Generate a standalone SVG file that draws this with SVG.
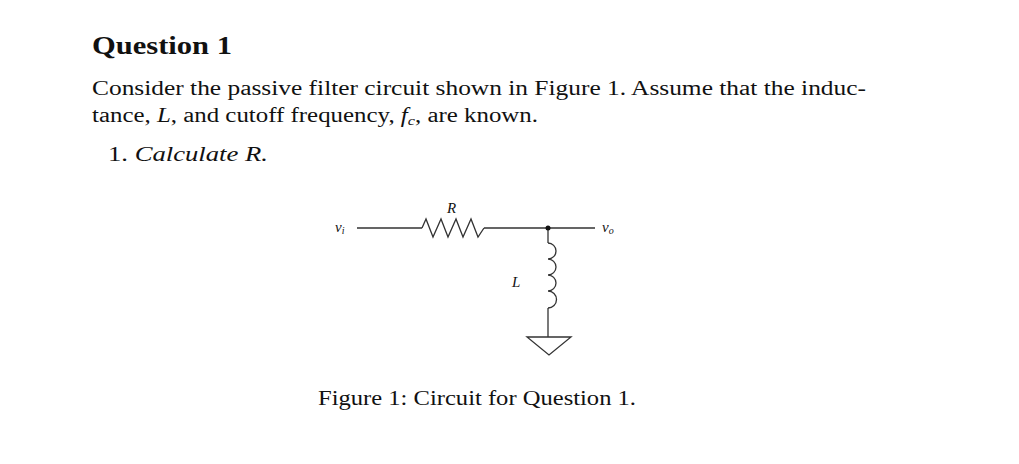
<svg xmlns="http://www.w3.org/2000/svg" width="1019" height="464" viewBox="0 0 1019 464">
<style>
text{font-family:"Liberation Serif","DejaVu Serif",serif;fill:#111}
.w{stroke:#333;stroke-width:1.3;fill:none}
.i{font-style:italic}
</style>
<rect width="1019" height="464" fill="#fff"/>
<text x="92" y="54" font-size="25" font-weight="bold" textLength="140" lengthAdjust="spacingAndGlyphs">Question 1</text>
<text x="92" y="95" font-size="20" textLength="774" lengthAdjust="spacingAndGlyphs">Consider the passive filter circuit shown in Figure 1.  Assume that the induc-</text>
<text x="92" y="122" font-size="20" textLength="446" lengthAdjust="spacingAndGlyphs">tance, <tspan class="i">L</tspan>, and cutoff frequency, <tspan class="i">f<tspan font-size="13" dy="3">c</tspan></tspan><tspan dy="-3">, are known.</tspan></text>
<text x="108" y="161" font-size="20" textLength="160" lengthAdjust="spacingAndGlyphs">1. <tspan class="i">Calculate R.</tspan></text>
<g id="connectors">
<path class="w" d="M357 228H422 M484 228H595 M548 228V243 M548 308V337"/>
</g>
<g id="R">
<path class="w" d="M422 228L426 219L433 237L441 219L448 237L456 219L463 237L471 219L478 237L484 228"/>
<text x="447" y="213" font-size="15" class="i">R</text>
</g>
<g id="L">
<path class="w" d="M548 243a8 8 0 0 1 0 16a8 8 0 0 1 0 0a8 8 0 0 1 0 16a8 8 0 0 1 0 0a8 8 0 0 1 0 16a8 8 0 0 1 0 0a8 8 0 0 1 0 17"/>
<text x="512" y="287" font-size="15" class="i">L</text>
</g>
<g id="node"><circle cx="548" cy="228" r="2.5" fill="#111"/></g>
<g id="gnd"><path class="w" d="M527 337H571L549 355Z"/></g>
<g id="vi"><text x="335" y="232" font-size="15" class="i">v<tspan font-size="10" dy="2">i</tspan></text></g>
<g id="vo"><text x="602" y="232" font-size="15" class="i">v<tspan font-size="10" dy="2">o</tspan></text></g>
<text x="318" y="405" font-size="20" textLength="318" lengthAdjust="spacingAndGlyphs">Figure 1: Circuit for Question 1.</text>
</svg>
